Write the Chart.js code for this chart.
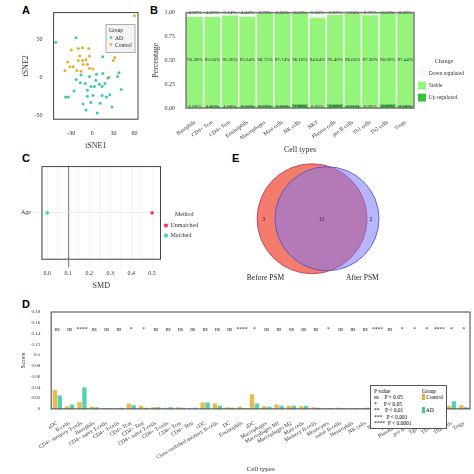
<!DOCTYPE html>
<html><head><meta charset="utf-8">
<script src="https://cdn.jsdelivr.net/npm/chart.js@4/dist/chart.umd.min.js"></script>
<style>
body{margin:0;width:474px;height:474px;background:#fff;position:relative;overflow:hidden;font-family:"Liberation Serif",serif}
.p{position:absolute}
.lab{position:absolute;font:bold 11px "Liberation Sans",Arial,sans-serif}
#dleg{position:absolute;left:370px;top:385px;border:1px solid #555;background:#fff;font-size:5.5px;padding:2px 3px;line-height:6.4px;white-space:pre}
</style></head><body>
<div class="lab" style="left:22px;top:4px">A</div>
<div class="lab" style="left:150px;top:4px">B</div>
<div class="lab" style="left:22px;top:152px">C</div>
<div class="lab" style="left:232px;top:152px">E</div>
<div class="lab" style="left:22px;top:298px">D</div>
<div class="p" style="left:20px;top:6px"><canvas id="cA" width="122" height="146"></canvas></div>
<div class="p" style="left:150px;top:6px"><canvas id="cB" width="324" height="150"></canvas></div>
<div class="p" style="left:18px;top:160px"><canvas id="cC" width="190" height="132"></canvas></div>
<div class="p" style="left:240px;top:158px"><canvas id="cE" width="170" height="135"></canvas></div>
<div class="p" style="left:18px;top:306px"><canvas id="cD" width="456" height="168"></canvas></div>
<div id="dleg"><span style="display:inline-block;width:48px;vertical-align:top">P value
ns    P &gt; 0.05
*     P &lt; 0.05
**    P &lt; 0.01
***   P &lt; 0.001
****  P &lt; 0.0001</span><span style="display:inline-block;vertical-align:top">Group
<span style="background:#e0b030">&nbsp;&nbsp;</span> Control

<span style="background:#3cc8a8">&nbsp;&nbsp;</span> AD</span></div>
<script>
Chart.defaults.font.family = '"Liberation Serif", serif';
Chart.defaults.font.size = 6;
Chart.defaults.color = '#333';
Chart.defaults.animation = false;

// A: tSNE
const adPts = [[-52,46],[-23,52],[15,27],[15,5],[38,6],[36,1],[41,-16],[-38,-26],[-34,-26],[-26,-18],[-17,-7],[-10,-8],[-7,-17],[-2,-12],[5,-4],[3,-12],[10,-9],[14,-12],[18,-8],[25,-23],[28,-39],[11,-34],[1,-24],[-7,-25],[-13,-35],[-9,-43],[7,-47],[-2,-33],[20,-26],[6,4],[-16,3],[-23,-3],[14,-24],[-4,1],[22,-1]];
const ctrlPts = [[-30,36],[-20,38],[-14,39],[-5,38],[-35,20],[-32,14],[-39,9],[-18,28],[-20,22],[-14,22],[-9,23],[-4,28],[-13,17],[-22,9],[-16,8],[-4,12],[1,11],[30,22],[32,26],[24,0],[60,81],[-27,14],[-7,17]];

// B: change percentages
const bCells = ["Basophils","CD4+ Tcm","CD4+ Tem","Eosinophils","Macrophages","Mast cells","NK cells","NKT","Plasma cells","pro B cells","Th1 cells","Th2 cells","Tregs"];
const bDown = [4.62,4.62,3.14,4.44,0.73,0.00,0.00,5.36,2.60,0.84,2.70,0.00,0.00];
const bStable = [95.38,93.56,95.26,93.34,96.75,97.74,96.10,94.64,93.40,96.65,97.30,96.00,97.44];
const bUp = [0.00,1.82,1.60,2.22,2.52,2.26,3.90,0.00,4.00,2.51,0.00,4.00,2.56];

// C: SMD
const smdUnmatched = [0.5];
const smdMatched = [0.0];

// E: Venn
const vennCounts = [3, 11, 2];

// D: scores
const dCells = ["aDC","B-cells","CD4+ memory T-cells","Basophils","CD4+ naive T-cells","CD4+ T-cells","CD4+ Tcm","CD4+ Tem","CD8+ naive T-cells","CD8+ T-cells","CD8+ Tcm","CD8+ Tem","cDC","Class-switched memory B-cells","DC","Eosinophils","iDC","Macrophages","Macrophages M1","Macrophages M2","Mast cells","Memory B-cells","Monocytes","naive B-cells","Neutrophils","NK cells","NKT","pDC","Plasma cells","pro B-cells","Tgd cells","Th1 cells","Th2 cells","Tregs"];
const dControl = [0.035,0.005,0.013,0.004,0.001,0.001,0.010,0.006,0.003,0.002,0.003,0.001,0.012,0.010,0.003,0.004,0.027,0.005,0.008,0.006,0.005,0.003,0.001,0.002,0.001,0.001,0.032,0.004,0.007,0.004,0.001,0.010,0.006,0.007];
const dAD = [0.025,0.008,0.040,0.003,0.001,0.002,0.007,0.002,0.003,0.003,0.002,0.002,0.012,0.006,0.002,0.001,0.010,0.004,0.006,0.006,0.006,0.002,0.001,0.001,0.001,0.002,0.010,0.005,0.008,0.002,0.001,0.005,0.014,0.003];
const dSig = ["ns","ns","****","ns","ns","ns","*","*","ns","ns","ns","ns","ns","ns","ns","****","*","ns","ns","ns","ns","ns","*","ns","ns","ns","****","ns","*","*","*","****","*","*"];

const border = {
  id: 'frame',
  afterDraw(c, a, o) {
    if (!o.color) return;
    const {left, top, right, bottom} = c.chartArea, x = c.ctx;
    x.save(); x.strokeStyle = o.color; x.lineWidth = o.width || 1;
    x.strokeRect(left, top, right - left, bottom - top); x.restore();
  }
};
Chart.register(border);
const serifTitle = (t, s) => ({display: true, text: t, font: {size: s || 8}, padding: 1});
const fixTicks = vals => s => { s.ticks = vals.map(v => ({value: v})); };

new Chart(document.getElementById('cA'), {
  type: 'scatter',
  data: {datasets: [
    {label: 'AD', data: adPts.map(p => ({x: p[0], y: p[1]})), backgroundColor: '#3cc8b4', borderWidth: 0, pointRadius: 1.5},
    {label: 'Control', data: ctrlPts.map(p => ({x: p[0], y: p[1]})), backgroundColor: '#e0b030', borderWidth: 0, pointRadius: 1.5}
  ]},
  options: {responsive: false, layout: {padding: {top: 4, right: 2}},
    plugins: {frame: {color: '#444'}, tooltip: {enabled: false}, legend: {display: false}},
    scales: {
      x: {min: -55, max: 65, title: serifTitle('tSNE1'), grid: {display: false}, afterBuildTicks: fixTicks([-30,0,30,60]), ticks: {maxRotation: 0}},
      y: {min: -55, max: 85, title: serifTitle('tSNE2'), grid: {display: false}, afterBuildTicks: fixTicks([-50,0,50])}
    }},
  plugins: [{id: 'legA', afterDraw(c) {
    const x = c.ctx, a = c.chartArea, l = a.right - 32, t = a.top + 12;
    x.save(); x.fillStyle = '#f4f4f4'; x.strokeStyle = '#999'; x.lineWidth = 0.8;
    x.fillRect(l, t, 29, 28); x.strokeRect(l, t, 29, 28);
    x.fillStyle = '#222'; x.font = '5.5px "Liberation Serif"';
    x.fillText('Group', l + 3, t + 7);
    c.data.datasets.forEach((d, i) => {
      x.fillStyle = d.backgroundColor; x.beginPath(); x.arc(l + 5, t + 13 + i * 7, 1.3, 0, 7); x.fill();
      x.fillStyle = '#222'; x.fillText(d.label, l + 9, t + 15 + i * 7);
    });
    x.restore();
  }}]
});

const pct = v => v.toFixed(2) + '%';
new Chart(document.getElementById('cB'), {
  type: 'bar',
  data: {labels: bCells, datasets: [
    {label: 'Up regulated', data: bUp.map(v => v / 100), backgroundColor: '#3cbf3c'},
    {label: 'Stable', data: bStable.map(v => v / 100), backgroundColor: '#94f57a'},
    {label: 'Down regulated', data: bDown.map(v => v / 100), backgroundColor: '#f2fff0'}
  ]},
  options: {responsive: false, layout: {padding: {top: 2}},
    datasets: {bar: {categoryPercentage: 0.92, barPercentage: 1}},
    plugins: {frame: {color: '#777', width: 1.5}, tooltip: {enabled: false},
      legend: {position: 'right', reverse: true,
        title: {display: true, text: 'Change', font: {size: 6}},
        labels: {boxWidth: 8, boxHeight: 8, font: {size: 5.5}, padding: 4}}},
    scales: {
      x: {stacked: true, title: serifTitle('Cell types'), grid: {display: false}, ticks: {autoSkip: false, maxRotation: 35, minRotation: 35, font: {size: 5.5}}},
      y: {stacked: true, min: 0, max: 1, title: serifTitle('Percentage'), grid: {display: false}, ticks: {stepSize: 0.25, callback: v => v.toFixed(2)}}
    }},
  plugins: [{id: 'pctlabels', afterDatasetsDraw(c) {
    const x = c.ctx; x.save(); x.font = '5px "Liberation Serif"'; x.fillStyle = '#222'; x.textAlign = 'center';
    const ys = c.scales.y;
    c.getDatasetMeta(0).data.forEach((b, i) => {
      x.fillText(pct(bDown[i]), b.x, ys.getPixelForValue(0.985));
      x.fillText(pct(bStable[i]), b.x, ys.getPixelForValue(0.49));
      x.fillText(pct(bUp[i]), b.x, ys.getPixelForValue(0.005));
    });
    x.restore();
  }}]
});

new Chart(document.getElementById('cC'), {
  type: 'scatter',
  data: {datasets: [
    {label: 'Unmatched', data: smdUnmatched.map(v => ({x: v, y: 0})), backgroundColor: '#e8405a', borderWidth: 0, pointRadius: 1.8},
    {label: 'Matched', data: smdMatched.map(v => ({x: v, y: 0})), backgroundColor: '#3cd6b8', borderWidth: 0, pointRadius: 1.8}
  ]},
  options: {responsive: false, layout: {padding: {top: 2}},
    plugins: {frame: {color: '#444'}, tooltip: {enabled: false},
      legend: {position: 'right',
        title: {display: true, text: 'Method', font: {size: 6}},
        labels: {boxWidth: 3, boxHeight: 3, usePointStyle: true, font: {size: 6}, padding: 4}}},
    scales: {
      x: {min: -0.025, max: 0.54, title: serifTitle('SMD'),
        afterBuildTicks: fixTicks([0,0.05,0.1,0.15,0.2,0.25,0.3,0.35,0.4,0.45,0.5]),
        grid: {color: c => Math.abs(c.tick.value - 0.1) < 1e-9 ? '#888' : '#eee', lineWidth: c => Math.abs(c.tick.value - 0.1) < 1e-9 ? 1.2 : 0.6},
        ticks: {maxRotation: 0, autoSkip: false, callback: v => (Math.round(v * 100) % 10 === 0) ? v.toFixed(1) : ''}},
      y: {min: -1, max: 1, afterBuildTicks: fixTicks([0]),
        grid: {color: '#eee'}, ticks: {callback: () => 'Age'}}
    }}
});

new Chart(document.getElementById('cE'), {
  type: 'bubble',
  data: {datasets: [
    {label: 'Before PSM', order: 2, data: [{x: 42.4, y: 55, r: 55}], backgroundColor: '#f47c6c', borderColor: '#c03050', borderWidth: 0.8, clip: false},
    {label: 'After PSM', order: 1, data: [{x: 51.2, y: 55, r: 52}], backgroundColor: 'rgba(125,120,245,0.55)', borderColor: '#4050c0', borderWidth: 0.8, clip: false}
  ]},
  options: {responsive: false, layout: {padding: 0, autoPadding: false},
    plugins: {legend: {display: false}, tooltip: {enabled: false}},
    scales: {x: {display: false, min: 0, max: 100}, y: {display: false, min: 0, max: 100}}},
  plugins: [{id: 'vennText', afterDatasetsDraw(c) {
    const x = c.ctx, sx = c.scales.x, sy = c.scales.y;
    x.save(); x.fillStyle = '#222'; x.textAlign = 'center'; x.font = '6px "Liberation Serif"';
    [14, 48, 77].forEach((px, i) => x.fillText(vennCounts[i], sx.getPixelForValue(px), sy.getPixelForValue(53)));
    x.font = '7.5px "Liberation Serif"';
    x.fillText('Before PSM', sx.getPixelForValue(15), sy.getPixelForValue(10));
    x.fillText('After PSM', sx.getPixelForValue(72), sy.getPixelForValue(10));
    x.restore();
  }}]
});

new Chart(document.getElementById('cD'), {
  type: 'bar',
  data: {labels: dCells, datasets: [
    {label: 'Control', data: dControl, backgroundColor: 'rgba(224,176,48,0.85)'},
    {label: 'AD', data: dAD, backgroundColor: 'rgba(60,200,168,0.85)'}
  ]},
  options: {responsive: false, layout: {padding: {top: 2, right: 4}},
    datasets: {bar: {categoryPercentage: 0.8, barPercentage: 0.9}},
    plugins: {frame: {color: '#444'}, tooltip: {enabled: false}, legend: {display: false}},
    scales: {
      x: {title: serifTitle('Cell types', 7), grid: {display: false}, ticks: {maxRotation: 30, minRotation: 30, autoSkip: false, font: {size: 5.5}}},
      y: {min: 0, max: 0.18, title: serifTitle('Score', 7), grid: {display: false}, ticks: {stepSize: 0.02, font: {size: 5}, callback: v => v === 0 ? '0' : +v.toFixed(2)}}
    }},
  plugins: [{id: 'sig', afterDatasetsDraw(c) {
    const x = c.ctx, y = c.scales.y.getPixelForValue(0.144);
    x.save(); x.font = '5.5px "Liberation Serif"'; x.fillStyle = '#222'; x.textAlign = 'center';
    dSig.forEach((s, i) => x.fillText(s, c.scales.x.getPixelForValue(i), y));
    x.restore();
  }}]
});
</script>
</body></html>
